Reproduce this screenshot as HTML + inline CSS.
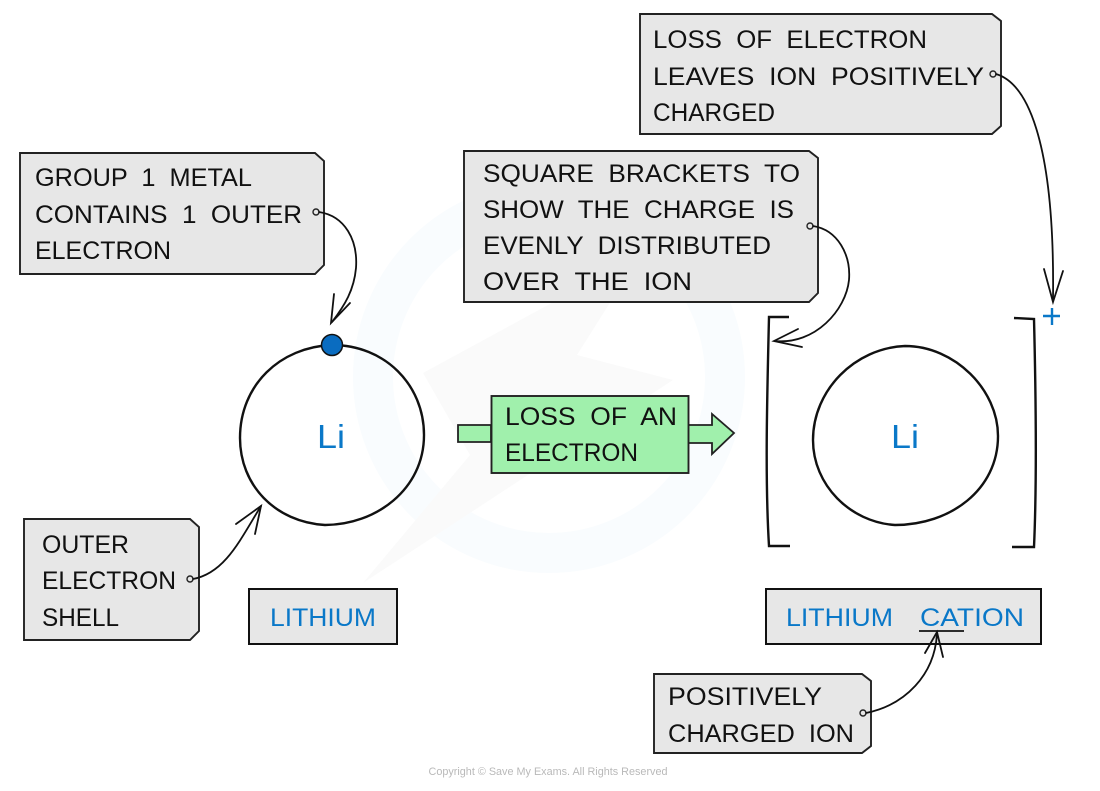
<!DOCTYPE html>
<html><head><meta charset="utf-8"><style>
html,body{margin:0;padding:0;background:#fff}
svg{display:block}
text{font-family:"Liberation Sans",sans-serif;font-size:25px;fill:#111;white-space:pre}
.box{fill:#e7e7e7;stroke:#222;stroke-width:1.9}
.l{fill:none;stroke:#111;stroke-width:1.8;stroke-linecap:round}
.c{fill:none;stroke:#111;stroke-width:2.4}
.d{fill:#e7e7e7;stroke:#222;stroke-width:1.4}
</style></head><body>
<svg width="1100" height="791" viewBox="0 0 1100 791" xmlns="http://www.w3.org/2000/svg">
<!-- watermark -->
<g>
<circle cx="549" cy="377" r="176" fill="none" stroke="#f9fcfe" stroke-width="40"/>
<path d="M423 373 L640 255 L577 355 L673 380 L363 583 L470 455 Z" fill="#fafafa"/>
</g>

<!-- top box -->
<path class="box" d="M640 14 H992 L1001 21 V126 L992 134 H640 Z"/>
<text x="653" y="48" textLength="274" lengthAdjust="spacingAndGlyphs">LOSS  OF  ELECTRON</text>
<text x="653" y="85" textLength="331" lengthAdjust="spacingAndGlyphs">LEAVES  ION  POSITIVELY</text>
<text x="653" y="121" textLength="122" lengthAdjust="spacingAndGlyphs">CHARGED</text>
<circle class="d" cx="993" cy="74" r="3"/>
<path class="l" d="M996 74 C1030 84 1055 150 1053 300"/>
<path class="l" d="M1044 269 L1053 302 L1063 271"/>
<path d="M1043 316 H1060 M1052 308 V325" fill="none" stroke="#0a78c8" stroke-width="2.4"/>

<!-- square brackets box -->
<path class="box" d="M464 151 H809 L818 158 V293 L809 302 H464 Z"/>
<text x="483" y="182" textLength="317" lengthAdjust="spacingAndGlyphs">SQUARE  BRACKETS  TO</text>
<text x="483" y="218" textLength="311" lengthAdjust="spacingAndGlyphs">SHOW  THE  CHARGE  IS</text>
<text x="483" y="254" textLength="288" lengthAdjust="spacingAndGlyphs">EVENLY  DISTRIBUTED</text>
<text x="483" y="290" textLength="209" lengthAdjust="spacingAndGlyphs">OVER  THE  ION</text>
<circle class="d" cx="810" cy="226" r="3"/>
<path class="l" d="M813 226 C838 230 851 255 849 280 C846 310 815 345 775 341"/>
<path class="l" d="M798 329 L774 341 L802 347"/>

<!-- group 1 box -->
<path class="box" d="M20 153 H315 L324 161 V265 L315 274 H20 Z"/>
<text x="35" y="186" textLength="217" lengthAdjust="spacingAndGlyphs">GROUP  1  METAL</text>
<text x="35" y="223" textLength="267" lengthAdjust="spacingAndGlyphs">CONTAINS  1  OUTER</text>
<text x="35" y="259" textLength="136" lengthAdjust="spacingAndGlyphs">ELECTRON</text>
<circle class="d" cx="316" cy="212" r="3"/>
<path class="l" d="M319 212 C345 216 358 240 356 268 C354 290 345 305 332 322"/>
<path class="l" d="M334 294 L331 323 L350 303"/>

<!-- lithium atom -->
<path class="c" d="M332 345 C385 345 424 385 424 435 C424 490 375 525 325 525 C275 522 240 485 240 438 C240 385 280 347 332 345 Z"/>
<circle cx="332" cy="345" r="10.5" fill="#0a6cc0" stroke="#111" stroke-width="1.5"/>
<text x="317" y="448" style="font-size:33px;fill:#0a78c8" textLength="28" lengthAdjust="spacingAndGlyphs">Li</text>

<!-- green arrow -->
<path d="M491 425 H458 V442 H491 Z" fill="#a0f0ac" stroke="#222" stroke-width="1.8"/>
<path d="M688 425 H712 V414 L734 433 L712 454 V443 H688 Z" fill="#a0f0ac" stroke="#222" stroke-width="1.8"/>
<rect x="491.5" y="396" width="197" height="77" fill="#a0f0ac" stroke="#222" stroke-width="1.9"/>
<text x="505" y="425" textLength="172" lengthAdjust="spacingAndGlyphs">LOSS  OF  AN</text>
<text x="505" y="461" textLength="133" lengthAdjust="spacingAndGlyphs">ELECTRON</text>

<!-- cation -->
<path class="c" d="M789 317 L769 317 C767 400 765 480 769 546 L790 546"/>
<path class="c" d="M1014 318 L1034 319 C1036 400 1037 480 1034 547 L1012 547"/>
<path class="c" d="M905 346 C955 346 998 390 998 436 C998 490 950 525 895 525 C850 522 813 485 813 440 C813 390 855 348 905 346 Z"/>
<text x="891" y="448" style="font-size:33px;fill:#0a78c8" textLength="28" lengthAdjust="spacingAndGlyphs">Li</text>

<!-- outer electron shell -->
<path class="box" d="M24 519 H190 L199 527 V631 L190 640 H24 Z"/>
<text x="42" y="553" textLength="87" lengthAdjust="spacingAndGlyphs">OUTER</text>
<text x="42" y="589" textLength="134" lengthAdjust="spacingAndGlyphs">ELECTRON</text>
<text x="42" y="626" textLength="77" lengthAdjust="spacingAndGlyphs">SHELL</text>
<circle class="d" cx="190" cy="579" r="3"/>
<path class="l" d="M193 579 C225 573 240 540 261 506"/>
<path class="l" d="M236 524 L261 506 L255 534"/>

<!-- lithium label -->
<rect x="249" y="589" width="148" height="55" fill="#e7e7e7" stroke="#111" stroke-width="2"/>
<text x="270" y="626" textLength="106" lengthAdjust="spacingAndGlyphs" style="fill:#0a78c8">LITHIUM</text>

<!-- lithium cation label -->
<rect x="766" y="589" width="275" height="55" fill="#e7e7e7" stroke="#111" stroke-width="2"/>
<text x="786" y="626" textLength="107" lengthAdjust="spacingAndGlyphs" style="fill:#0a78c8">LITHIUM</text>
<text x="920" y="626" textLength="104" lengthAdjust="spacingAndGlyphs" style="fill:#0a78c8">CATION</text>
<path d="M919 631 H964" stroke="#111" stroke-width="1.8" fill="none"/>

<!-- positively charged -->
<path class="box" d="M654 674 H862 L871 681 V746 L862 753 H654 Z"/>
<text x="668" y="705" textLength="154" lengthAdjust="spacingAndGlyphs">POSITIVELY</text>
<text x="668" y="742" textLength="186" lengthAdjust="spacingAndGlyphs">CHARGED  ION</text>
<circle class="d" cx="863" cy="713" r="3"/>
<path class="l" d="M866 713 C905 705 935 675 937 633"/>
<path class="l" d="M925 653 L937 632 L943 657"/>

<text x="548" y="775" text-anchor="middle" textLength="239" lengthAdjust="spacingAndGlyphs" style="font-size:11px;fill:#b9b9b9">Copyright © Save My Exams. All Rights Reserved</text>
</svg>
</body></html>
